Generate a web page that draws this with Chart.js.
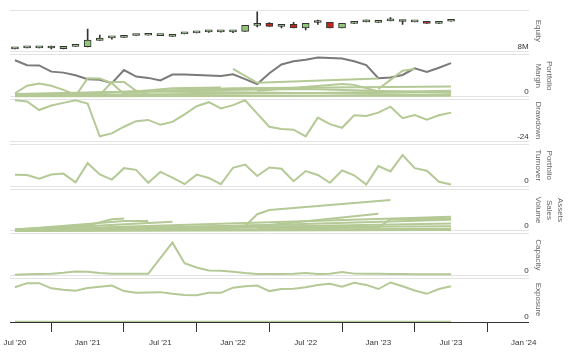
<!DOCTYPE html>
<html>
<head>
<meta charset="utf-8">
<script src="https://cdn.jsdelivr.net/npm/chart.js@4.4.0/dist/chart.umd.min.js"></script>
<style>
  html, body { margin: 0; padding: 0; background: #fff; }
</style>
</head>
<body>
<canvas id="myChart" width="580" height="360"></canvas>
<script>
// month index, 0 = Jul '20 ... 36 = Jul '23
const months = [0,1,2,3,4,5,6,7,8,9,10,11,12,13,14,15,16,17,18,19,20,21,22,23,24,25,26,27,28,29,30,31,32,33,34,35,36];
const xTickPos = [0, 6, 12, 18, 24, 30, 36, 42];
const xTickLabels = ["Jul '20", "Jan '21", "Jul '21", "Jan '22", "Jul '22", "Jan '23", "Jul '23", "Jan '24"];

// equity candles (millions)
const eqOpen  = [8.15,8.20,8.20,8.19,8.155,8.27,8.255,8.575,8.70,8.725,8.82,8.83,8.81,8.775,8.90,8.95,9.00,9.00,9.00,9.025,9.325,9.425,9.275,9.375,9.205,9.47,9.475,9.205,9.425,9.50,9.475,9.55,9.52,9.50,9.525,9.425,9.535];
const eqClose = [8.16,8.21,8.21,8.19,8.275,8.28,8.59,8.69,8.71,8.825,8.83,8.83,8.84,8.875,8.91,8.96,9.01,9.01,9.02,9.325,9.425,9.275,9.375,9.205,9.425,9.48,9.205,9.425,9.525,9.51,9.575,9.56,9.53,9.51,9.425,9.525,9.545];
const eqHigh  = [8.17,8.22,8.22,8.29,8.28,8.28,9.14,8.84,8.72,8.825,8.83,8.83,8.84,8.875,8.91,8.96,9.05,9.04,9.05,9.325,10.005,9.465,9.375,9.475,9.425,9.59,9.475,9.425,9.525,9.59,9.575,9.725,9.59,9.51,9.525,9.525,9.545];
const eqLow   = [8.14,8.19,8.19,8.14,8.15,8.27,8.25,8.575,8.64,8.725,8.82,8.83,8.81,8.775,8.90,8.95,8.97,8.98,8.96,9.025,9.255,9.27,9.205,9.205,9.105,9.375,9.205,9.205,9.425,9.50,9.475,9.55,9.375,9.50,9.425,9.425,9.535];

// portfolio margin
const marginTotal = [87,75.2,74.5,59.7,57.3,51,41.6,40,32.2,63.5,48,44.7,38.5,52.6,52.6,51.7,50.3,49.4,53.3,41.6,29.8,55.7,76.8,84.6,87.9,93.3,92.6,91,84.6,75.2,44,45.6,51.7,67.4,58.8,69,80];
const marginA = [[0,8],[1,26],[2,31],[3,26],[4,16],[5,4],[9,3]];
const marginB = [[5,1],[6,44],[7,43],[8,32],[9,6],[12,4]];
const marginC = [[7,4],[8,35],[9,35],[10,14],[11,6]];
const marginD = [[0,4],[12,14],[24,18],[36,9]];
const marginE = [[0,2],[18,20],[36,24]];
const marginF = [[0,6],[10,12],[20,10],[36,4]];
const marginG = [[0,1],[36,2]];
const marginH = [[9,10],[13,20],[17,22]];
const marginI = [[18,66],[20,33],[30,43]];
const marginJ = [[30,18],[31,40],[32,62],[33,66]];
const marginK = [[20,14],[27,30],[28,28],[30,12],[36,10]];
const marginL = [[0,3],[24,8],[36,14]];

const drawdown = [-0.4,-1.1,-6.0,-3.4,-1.9,-0.4,-2.3,-21.1,-19.4,-15.6,-12.4,-11.7,-14.5,-12.8,-8.5,-3.8,-1.5,-5.1,-3.2,-0.4,-8.1,-15.6,-16.9,-17.3,-21.1,-10.4,-14.1,-16.2,-9.0,-9.4,-7.5,-4.1,-10.7,-8.9,-11.5,-9.0,-7.5];
const turnover = [27.5,26.8,18,28,30,9.4,55,28,15.7,43,39,8,34,20.4,4.7,27.5,19.7,4.7,44,51.7,24.4,44.6,41.6,11.7,36,26.8,8,37.6,25.9,4,48,35.3,74.5,43,37,10.3,4];

// assets sales volume
const salesA = [[0,4],[6,13],[8,28],[9,30]];
const salesB = [[0,3],[9,24],[11,24]];
const salesC = [[0,2],[13,22]];
const salesD = [[0,1],[19,12],[20,40],[21,50],[23,55],[31,74]];
const salesE = [[0,1],[21,14],[30,41]];
const salesF = [[0,2],[36,34]];
const salesG = [[0,1],[18,12],[36,27]];
const salesH = [[20,6],[30,8],[31,28],[33,28],[36,30]];
const salesI = [[0,0.5],[36,5]];
const salesJ = [[0,0],[36,2]];
const salesK = [[5,2],[22,9],[36,11]];
const salesL = [[0,3],[12,8],[24,12],[36,18]];

const capacity = [2.4,3.3,4,4.7,7,10.3,9.4,6.3,4.7,4.7,4.7,4.7,42,79.2,29.8,19.7,12.7,11.8,9.4,6.3,4,4,4,4.5,6.3,4,4.7,8.7,5,4.7,4.5,4.3,4,3.8,3.6,3.4,3.3];
const exposure = [80.2,89.7,89.7,77.8,74.5,72.1,78.5,81.7,84.1,71.4,67.4,68.2,69,65.1,62.6,61.9,67.4,67.4,79.4,82.5,84.1,71.4,76.2,77,80.2,85.7,88.1,81.7,90.5,85.7,76.2,91.3,82.5,72.9,65.1,76.2,82.5];
const exposureShort = [0.5,0.5,0.5,0.5,0.5,0.5,0.5,0.5,0.5,0.5,0.5,0.5,0.5,0.5,0.5,0.5,0.5,0.5,0.5,0.5,0.5,0.5,0.5,0.5,0.5,0.5,0.5,0.5,0.5,0.5,0.5,0.5,0.5,0.5,0.5,0.5,0.5];

const GREEN = '#b4c995';
const FONT = { family: "'Liberation Sans', Arial, sans-serif", size: 8 };
const panelH = (322 - 8.5) / 7;

// one stacked panel on the right, frame lines at lo and hi
function panel(lo, hi, title, padTop, tickText, bottomInset) {
  const per = (hi - lo) / (panelH - 1.5 - bottomInset);
  return {
    type: 'linear', position: 'right', stack: 'panels', stackWeight: 1,
    min: lo - bottomInset * per, max: hi + 1.5 * per,
    afterBuildTicks: s => { s.ticks = [{ value: lo }, { value: hi }]; },
    grid: { drawTicks: false, lineWidth: 1,
      color: c => (c.index === 0 && bottomInset === 0) ? 'rgba(0,0,0,0)' : '#e3e3e3' },
    border: { display: false },
    ticks: { mirror: true, padding: 0, labelOffset: -5, color: '#333', font: FONT,
      callback: (v, i) => i === 0 ? tickText : '' },
    title: { display: true, text: title, color: '#666',
      font: { ...FONT, lineHeight: 1.4 }, padding: { top: padTop, bottom: 4.5 } }
  };
}

const line = (data, axis, color, extra) => Object.assign({
  type: 'line', data: data, yAxisID: axis, borderColor: color || GREEN,
  borderWidth: 2, pointRadius: 0, tension: 0, fill: false
}, extra || {});
const series = vals => months.map((m, i) => ({ x: m, y: vals[i] }));
const pairs = arr => arr.map(([x, y]) => ({ x: x, y: y }));

const datasets = [
  { type: 'bar', yAxisID: 'equity', order: 2, grouped: false, barThickness: 1,
    data: months.map((m, i) => ({ x: m, y: [eqLow[i], eqHigh[i]] })),
    backgroundColor: '#333', borderWidth: 0 },
  { type: 'bar', yAxisID: 'equity', order: 1, grouped: false, barThickness: 7, minBarLength: 2,
    data: months.map((m, i) => ({ x: m, y: [eqOpen[i], eqClose[i]] })),
    backgroundColor: months.map((m, i) => eqClose[i] < eqOpen[i] ? '#c1271d' : '#92c47c'),
    borderColor: '#333', borderWidth: 1, borderSkipped: false }
];
[marginA, marginB, marginC, marginD, marginE, marginF, marginG, marginH, marginI, marginJ, marginK, marginL]
  .forEach(a => datasets.push(line(pairs(a), 'margin')));
datasets.push(line(series(marginTotal), 'margin', '#7a7a7a'));
datasets.push(line(series(drawdown), 'drawdown'));
datasets.push(line(series(turnover), 'turnover'));
[salesA, salesB, salesC, salesD, salesE, salesF, salesG, salesH, salesI, salesJ, salesK, salesL]
  .forEach(a => datasets.push(line(pairs(a), 'sales')));
datasets.push(line(series(capacity), 'capacity'));
datasets.push(line(series(exposure), 'exposure'));
datasets.push(line(series(exposureShort), 'exposure'));

const ctx = document.getElementById('myChart').getContext('2d');
const myChart = new Chart(ctx, {
  type: 'line',
  data: { datasets: datasets },
  options: {
    responsive: false,
    animation: false,
    layout: { padding: { top: 8.5, right: 11.4, bottom: 6.4, left: 10 } },
    plugins: { legend: { display: false }, tooltip: { enabled: false } },
    scales: {
      x: {
        type: 'linear', position: 'bottom', min: -0.41, max: 42.41, offset: false,
        afterBuildTicks: s => { s.ticks = xTickPos.map(v => ({ value: v })); },
        afterFit: s => { s.paddingLeft = 0; s.paddingRight = 0; },
        grid: { drawOnChartArea: false, tickLength: 10, color: '#333' },
        border: { color: '#333' },
        ticks: { color: '#333', font: FONT, padding: 6, maxRotation: 0, autoSkip: false,
          callback: (v, i) => xTickLabels[i] }
      },
      equity:   panel(8, 10.1, 'Equity', 24.9, '8M', 1.5),
      margin:   panel(0, 100, ['Portfolio', 'Margin'], 13.7, '0', 1.5),
      drawdown: panel(-24, 0, 'Drawdown', 24.9, '-24', 1.5),
      turnover: panel(0, 100, ['Portfolio', 'Turnover'], 13.7, '0', 1.5),
      sales:    panel(0, 100, ['Assets', 'Sales', 'Volume'], 2.5, '0', 1.5),
      capacity: panel(0, 100, 'Capacity', 24.9, '0', 1.5),
      exposure: panel(0, 100, 'Exposure', 24.9, '0', 0)
    }
  }
});
</script>
</body>
</html>
